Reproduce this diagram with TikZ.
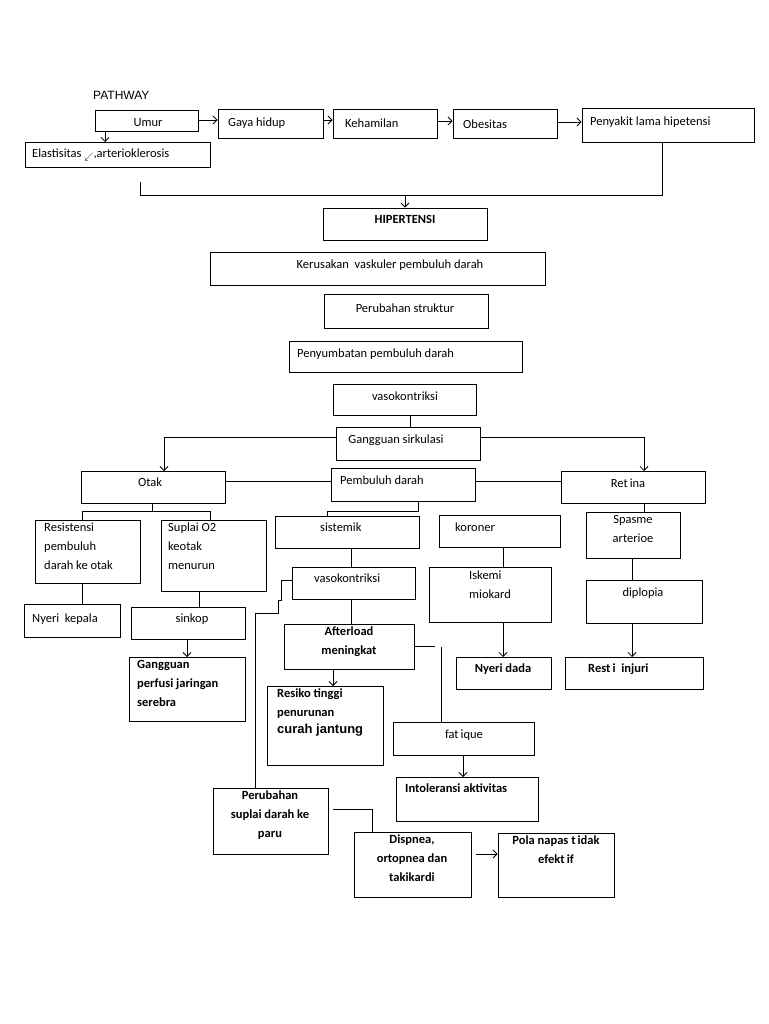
\documentclass[tikz,border=0pt]{standalone}
\usepackage{fontspec}
\setmainfont{Carlito}
\newfontfamily\arialf{Liberation Sans}
\usetikzlibrary{arrows.meta,fit}
\begin{document}
\begin{tikzpicture}[x=1pt,y=-1pt,
  bx/.style={draw,line width=0.9pt,inner sep=0pt},
  tx/.style={inner sep=0pt,font=\fontsize{12.5}{19}\selectfont,align=left},
  bt/.style={tx,font=\fontsize{12.5}{19}\selectfont\bfseries},
  ln/.style={line width=0.8pt},
  arr/.style={ln,-{Straight Barb[length=4pt,width=8pt]}}]
\useasboundingbox[fill=white] (0,0) rectangle (768,1024);
\newcommand{\bx}[5]{\node[bx,fit={(#2,#3)(#4,#5)}] (#1) {};}
\node[inner sep=0pt,anchor=west,font=\arialf\fontsize{12}{14}\selectfont] (pw) at (93,95) {PATHWAY};
% top row
\bx{umur}{95}{110}{198}{131}
\bx{gaya}{218}{109}{323}{138}
\bx{keh}{333}{109}{437}{138}
\bx{obe}{453}{109}{557}{138}
\bx{pen}{582}{108}{754}{142}
\bx{ela}{25}{142}{210}{167}
\node[tx] (umurt) at (148,123) {Umur};
\node[tx,anchor=west] (gayat) at (228,123) {Gaya hidup};
\node[tx,anchor=west] (keht) at (345,123) {Kehamilan};
\node[tx,anchor=west] (obet) at (463,124) {Obesitas};
\node[tx,anchor=west] (pent) at (590,122) {Penyakit lama hipetensi};
\node[tx,anchor=west] (elat) at (32,155) {Elastisitas \raisebox{-2pt}{\small$\swarrow$},arterioklerosis};
\coordinate (u1) at (105,131); \coordinate (u2) at (105,142);
\draw[arr] (u1) -- (u2);
\draw[arr] (198,120) -- (gaya.west |- 0,120);
\draw[arr] (323,120) -- (keh.west |- 0,120);
\draw[arr] (437,121) -- (obe.west |- 0,121);
\draw[arr] (557,122) -- (pen.west |- 0,122);
% merge to HIPERTENSI
\bx{hip}{323}{208}{487}{240}
\node[bt] (hipt) at (405,219) {HIPERTENSI};
\coordinate (m1) at (140,182); \coordinate (m2) at (662,142);
\draw[ln] (m1) -- (140,195) -- (662,195) -- (m2);
\draw[arr] (405,195) -- (hip.north);
\bx{ker}{210}{252}{545}{285}
\node[tx] (kert) at (390,265) {Kerusakan\ \ vaskuler pembuluh darah};
\bx{str}{324}{294}{488}{328}
\node[tx] (strt) at (405,308) {Perubahan struktur};
\bx{sum}{289}{341}{522}{372}
\node[tx,anchor=west] (sumt) at (297,354) {Penyumbatan pembuluh darah};
\bx{vas}{333}{384}{476}{415}
\node[tx] (vast) at (405,396) {vasokontriksi};
\bx{gs}{336}{427}{480}{460}
\node[tx] (gst) at (396,440) {Gangguan sirkulasi};
\draw[ln] (vas.south -| 410,0) -- (gs.north -| 410,0);
% level 2
\bx{otak}{81}{471}{225}{503}
\bx{pd}{331}{468}{475}{501}
\bx{ret}{561}{471}{705}{503}
\node[tx] (otakt) at (150,482) {Otak};
\node[tx,anchor=west] (pdt) at (340,480) {Pembuluh darah};
\node[tx] (rett) at (628,483) {Ret\,ina};
\draw[arr] (gs.west |- 0,437) -- (164,437) -- (164,471);
\draw[arr] (gs.east |- 0,437) -- (644,437) -- (644,471);
\draw[ln] (otak.east |- 0,481) -- (pd.west |- 0,481);
\draw[ln] (pd.east |- 0,481) -- (ret.west |- 0,481);
% Otak branch
\bx{res}{35}{520}{140}{583}
\bx{sup}{161}{520}{266}{591}
\node[tx,anchor=north west] (rest) at (44,523) {Resistensi\\pembuluh\\darah ke otak};
\node[tx,anchor=north west] (supt) at (168,523) {Suplai O2\\keotak\\menurun};
\draw[ln] (152,503) -- (152,511);
\draw[ln] (82,520) -- (82,511) -- (210,511) -- (210,520);
\bx{nk}{24}{604}{120}{637}
\node[tx,anchor=west] (nkt) at (32,619) {Nyeri\ \ kepala};
\draw[ln] (82,583) -- (82,604);
\bx{sink}{131}{607}{245}{639}
\node[tx] (sinkt) at (192,619) {sinkop};
\draw[ln] (199,591) -- (199,607);
\bx{gp}{129}{657}{245}{721}
\node[bt,anchor=north west] (gpt) at (137,660) {Gangguan\\perfusi jaringan\\serebra};
\draw[arr] (187,639) -- (187,657);
% Pembuluh branch
\bx{sis}{275}{516}{419}{548}
\bx{kor}{439}{515}{560}{547}
\node[tx,anchor=west] (sist) at (320,527) {sistemik};
\node[tx,anchor=west] (kort) at (455,527) {koroner};
\draw[ln] (418,501) -- (418,511) -- (327,511) -- (327,516);
\bx{vas2}{292}{567}{415}{599}
\node[tx,anchor=west] (vas2t) at (314,578) {vasokontriksi};
\draw[ln] (351,548) -- (351,567);
\bx{isk}{429}{567}{551}{622}
\node[tx,anchor=north] (iskt) at (490,571) {Iskemi\\miokard};
\draw[ln] (503,547) -- (503,567);
\bx{nd}{456}{657}{551}{689}
\node[bt] (ndt) at (503,669) {Nyeri dada};
\draw[arr] (503,622) -- (503,657);
\bx{aft}{284}{624}{414}{669}
\node[bt,align=center,anchor=north] (aftt) at (349,627) {Afterload\\meningkat};
\draw[ln] (351,599) -- (351,624);
\bx{risk}{267}{686}{383}{765}
\node[bt,anchor=north west] (riskt) at (277,689) {Resiko tinggi\\penurunan\\[-2pt]{\arialf\fontsize{13}{15}\selectfont\bfseries curah jantung}};
\draw[arr] (333,669) -- (333,686);
\bx{fat}{393}{722}{534}{755}
\node[tx] (fatt) at (464,735) {fat\,ique};
\draw[ln] (414,646) -- (435,646);
\draw[ln] (441,647) -- (441,722);
\bx{intl}{396}{777}{538}{821}
\node[bt,anchor=west] (intlt) at (405,788) {Intoleransi aktivitas};
\draw[arr] (463,755) -- (463,777);
\bx{ps}{213}{788}{328}{854}
\node[bt,align=center,anchor=north] (pst) at (270,791) {Perubahan\\suplai darah ke\\paru};
\draw[ln] (292,580) -- (281,580) -- (281,600) -- (278,600) -- (278,613) -- (255,613) -- (255,788);
\bx{dis}{354}{832}{471}{897}
\node[bt,align=center,anchor=north] (dist) at (412,835) {Dispnea,\\ortopnea dan\\takikardi};
\draw[ln] (333,809) -- (372,809) -- (372,832);
\bx{pola}{498}{833}{614}{897}
\node[bt,align=center,anchor=north] (polat) at (556,836) {Pola napas t\,idak\\efekt\,if};
\draw[arr] (476,854) -- (pola.west |- 0,854);
% retina branch
\bx{spa}{586}{512}{680}{558}
\node[tx,align=center,anchor=north] (spat) at (633,515) {Spasme\\arterioe};
\draw[ln] (644,503) -- (644,512);
\bx{dip}{586}{580}{702}{623}
\node[tx] (dipt) at (643,593) {diplopia};
\draw[ln] (632,558) -- (632,580);
\bx{resti}{565}{657}{703}{689}
\node[bt,anchor=west] (restit) at (588,669) {Rest\,i\ \ injuri};
\draw[arr] (632,623) -- (632,657);
\end{tikzpicture}
\end{document}
